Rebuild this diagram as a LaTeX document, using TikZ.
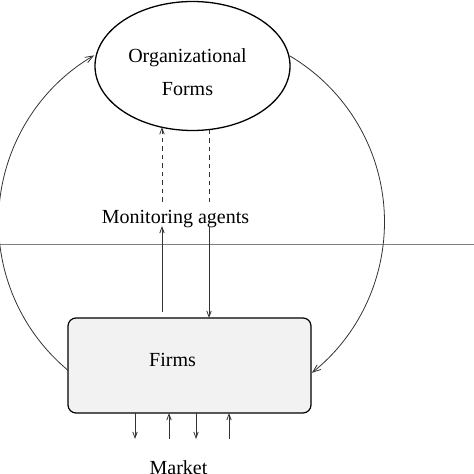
\documentclass[tikz,border=0pt]{standalone}
\usepackage{fontspec}
\setmainfont{Liberation Serif}
\usetikzlibrary{arrows.meta,shapes.geometric}
\begin{document}
\begin{tikzpicture}[x=1pt,y=1pt,
  txt/.style={font=\fontsize{20}{24}\selectfont, anchor=base, inner sep=0pt},
  conn/.style={line width=0.8pt, draw=black!80},
  bigbarb/.style={-{Straight Barb[length=8pt,width=6pt]}},
  smallbarb/.style={-{Straight Barb[length=6pt,width=4.5pt]}},
  dashline/.style={conn, dash pattern=on 4.5pt off 4pt}]
\useasboundingbox (0,0) rectangle (474,474);
% nodes
\node[ellipse, draw, line width=1.3pt, minimum width=195pt, minimum height=129pt, inner sep=0pt, outer sep=0pt] (org) at (192.5,408) {};
\node[txt] (orgt1) at (187.5,411.3) {Organizational};
\node[txt] (orgt2) at (187.5,378) {Forms};
\node[txt] (mon) at (175.5,250) {Monitoring agents};
\node[draw, line width=1.2pt, rounded corners=8pt, fill=black!5, minimum width=243pt, minimum height=95pt, inner sep=0pt, outer sep=0pt] (firms) at (189.5,108.5) {};
\node[txt] (firmst) at (172.5,107.3) {Firms};
\node[txt] (market) at (178.5,-1) {Market};
% horizontal line
\coordinate (hl) at (0,230);
\coordinate (hr) at (474,230);
\draw[line width=0.9pt, draw=black!50] (hl) -- (hr);
% dashed lines
\coordinate (d1) at (162,272);
\coordinate (d2) at (209,272);
\draw[dashline, smallbarb] (d1) -- (d1 |- org.243.5);
\draw[dashline] (d2 |- org.284.5) -- (d2);
% solid lines
\coordinate (s1) at (162,162);
\coordinate (s1t) at (162,248);
\coordinate (s2) at (209,248);
\draw[conn, smallbarb] (s1) -- (s1t);
\draw[conn, smallbarb] (s2) -- (s2 |- firms.north);
% market arrows
\foreach \xx/\dir in {135/down,169/up,196/down,229/up}{
  \coordinate (m\xx) at (\xx,35);
  \ifx\dir\empty\fi
}
\draw[conn, smallbarb] (m135 |- firms.south) -- (m135);
\draw[conn, smallbarb] (m169) -- (m169 |- firms.south);
\draw[conn, smallbarb] (m196 |- firms.south) -- (m196);
\draw[conn, smallbarb] (m229) -- (m229 |- firms.south);
% arcs
\coordinate (C) at (191.5,252);
\coordinate (ra) at ([shift={(59.5:193)}]C);
\coordinate (la) at ([shift={(230.3:193)}]C);
\draw[conn, bigbarb] (ra) arc[start angle=59.5, end angle=-51.4, radius=193];
\draw[conn, bigbarb] (la) arc[start angle=230.3, end angle=120.3, radius=193];
\end{tikzpicture}
\end{document}
